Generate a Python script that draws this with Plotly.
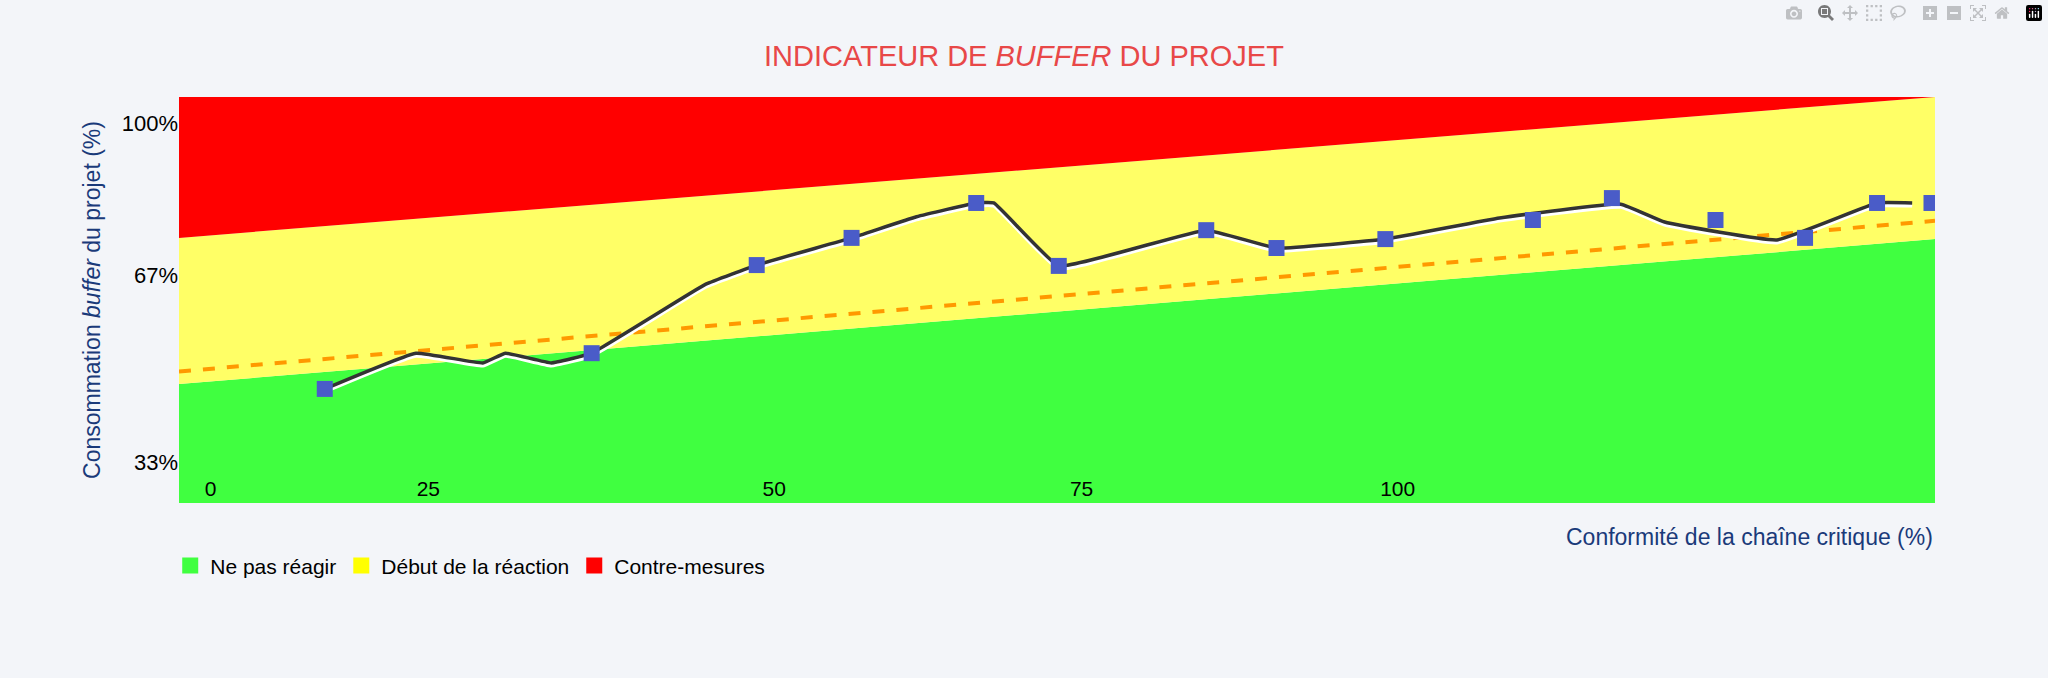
import plotly.graph_objects as go

zone_x = [0, 100]
green_top = [29.3, 65.0]
yellow_top = [65.3, 100]
red_top = [100, 100]
trend_x = [0, 100]
trend_y = [32.4, 69.5]

line_x = [8.3, 13.5, 17.3, 18.6, 21.2, 23.5, 30.0, 32.9, 38.3, 42.0, 45.4, 46.4, 50.1, 58.5, 62.5, 68.7, 75.2, 82.1, 84.6, 91.0, 96.7, 98.7]
line_y = [28.1, 36.9, 34.5, 36.9, 34.5, 36.9, 53.9, 58.6, 65.3, 70.5, 73.9, 73.9, 58.4, 67.2, 62.8, 65.0, 70.2, 73.6, 69.2, 64.8, 73.9, 73.9]
mark_x = [8.3, 23.5, 32.9, 38.3, 45.4, 50.1, 58.5, 62.5, 68.7, 77.1, 81.6, 87.5, 92.6, 96.7, 99.8]
mark_y = [28.1, 36.9, 58.6, 65.3, 73.9, 58.4, 67.2, 62.8, 65.0, 69.7, 75.1, 69.7, 65.3, 73.9, 73.9]

xtick_vals = [1.8, 14.2, 33.9, 51.4, 69.4]
xtick_text = ["0", "25", "50", "75", "100"]
ytick_vals = [10.1, 56.0, 93.6]
ytick_text = ["33%", "67%", "100%"]

legend_names = ["Ne pas réagir", "Début de la réaction", "Contre-mesures"]
legend_colors = ["#40ff40", "#ffff00", "#ff0000"]

fig = go.Figure()
fig.add_trace(go.Scatter(x=zone_x, y=green_top, mode="lines", line=dict(width=0), fill="tozeroy",
                         fillcolor="#40ff40", showlegend=False))
fig.add_trace(go.Scatter(x=zone_x, y=yellow_top, mode="lines", line=dict(width=0), fill="tonexty",
                         fillcolor="#ffff66", showlegend=False))
fig.add_trace(go.Scatter(x=zone_x, y=red_top, mode="lines", line=dict(width=0), fill="tonexty",
                         fillcolor="#ff0000", showlegend=False))
fig.add_trace(go.Scatter(x=trend_x, y=trend_y, mode="lines", line=dict(color="#ff9900", width=4, dash="dash"),
                         showlegend=False))
fig.add_trace(go.Scatter(x=line_x, y=[v - 0.7 for v in line_y], mode="lines",
                         line=dict(color="white", width=3.5, shape="spline", smoothing=0.3), showlegend=False))
fig.add_trace(go.Scatter(x=line_x, y=line_y, mode="lines",
                         line=dict(color="#333333", width=3.5, shape="spline", smoothing=0.3), showlegend=False))
fig.add_trace(go.Scatter(x=mark_x, y=mark_y, mode="markers",
                         marker=dict(symbol="square", size=16, color="#4a5cc8"), showlegend=False))
for n, c in zip(legend_names, legend_colors):
    fig.add_trace(go.Scatter(x=[None], y=[None], mode="markers", name=n,
                             marker=dict(symbol="square", size=28, color=c)))

fig.update_layout(
    width=2048, height=678,
    paper_bgcolor="#f3f5f9", plot_bgcolor="#f3f5f9",
    margin=dict(l=179, r=113, t=97, b=175),
    font=dict(family="Liberation Sans, Arial, sans-serif", size=20, color="black"),
    title=dict(text="INDICATEUR DE <i>BUFFER</i> DU PROJET", x=0.5, xanchor="center", y=0.918, yanchor="middle",
               font=dict(size=29, color="#e84848")),
    xaxis=dict(range=[0, 100], showgrid=False, zeroline=False, tickvals=xtick_vals, ticktext=xtick_text,
               ticklabelposition="inside", ticks="", showline=False, tickfont=dict(size=21, color="black")),
    yaxis=dict(range=[0, 100], showgrid=False, zeroline=False, tickvals=ytick_vals, ticktext=ytick_text,
               ticks="", showline=False, tickfont=dict(size=22, color="black"),
               title=dict(text="Consommation <i>buffer</i> du projet (%)", font=dict(size=23, color="#1a3a7a"), standoff=14)),
    legend=dict(orientation="h", x=-0.005, xanchor="left", y=-0.155, yanchor="middle",
                font=dict(size=21), itemwidth=30, traceorder="normal"),
    annotations=[dict(text="Conformité de la chaîne critique (%)", xref="paper", yref="paper", x=1, y=-0.083,
                      xanchor="right", yanchor="middle", showarrow=False, font=dict(size=23, color="#1a3a7a"))],
)
fig.write_html("out.html", post_script="document.body.style.margin='0';document.body.style.background='#f3f5f9';")
